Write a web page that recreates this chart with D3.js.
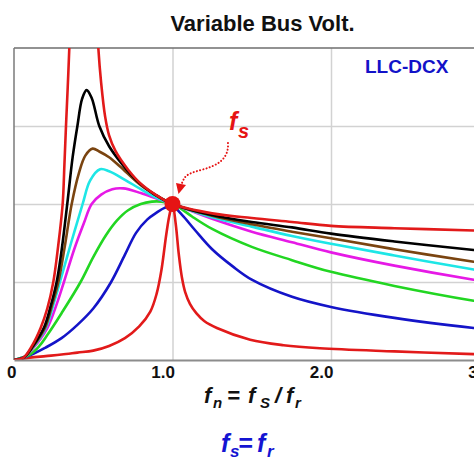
<!DOCTYPE html>
<html>
<head>
<meta charset="utf-8">
<script src="https://cdn.jsdelivr.net/npm/d3@7"></script>
<style>
  html, body { margin: 0; padding: 0; background: #fff; }
  svg { display: block; }
</style>
</head>
<body>
<svg id="chart" width="474" height="474"></svg>
<script>
// ---------- data ----------
const xTicks = [0, 1, 2, 3];
const xTickLabels = ["0", "1.0", "2.0", "3.0"];
const xGrid = [1, 2];
const yGrid = [1, 2, 3];
const resonancePoint = [1.0, 2.0];

// gain curves: [fn, gain]
const curveRedTop = [[0,0],[0.06,0.03],[0.116,0.19],[0.168,0.41],[0.21,0.66],[0.248,1.0],[0.278,1.45],[0.307,2.0],[0.318,2.5],[0.328,3.0],[0.339,3.5],[0.349,4.0],[0.37,5.2],[0.40,7.5],[0.44,9.5],[0.48,7.5],[0.51,5.0],[0.532,4.0],[0.55,3.55],[0.575,3.12],[0.60,2.88],[0.64,2.68],[0.72,2.44],[0.8,2.26],[0.9,2.11],[1.0,2.0],[1.25,1.88],[1.5,1.82],[1.754,1.77],[2.0,1.72],[2.4,1.69],[2.9,1.66],[3.0,1.65]];
const curveBlack = [[0,0],[0.06,0.03],[0.12,0.18],[0.19,0.42],[0.23,0.68],[0.269,1.0],[0.30,1.4],[0.336,2.0],[0.37,2.6],[0.40,3.0],[0.43,3.35],[0.458,3.46],[0.49,3.36],[0.538,3.0],[0.60,2.74],[0.686,2.5],[0.774,2.3],[0.88,2.13],[1.0,2.0],[1.25,1.86],[1.5,1.77],[1.754,1.70],[2.0,1.62],[2.4,1.52],[2.9,1.41],[3.0,1.39]];
const curveBrown = [[0,0],[0.06,0.03],[0.12,0.17],[0.195,0.41],[0.24,0.7],[0.28,1.0],[0.32,1.45],[0.364,2.0],[0.41,2.4],[0.45,2.62],[0.496,2.71],[0.54,2.67],[0.60,2.6],[0.669,2.48],[0.80,2.24],[0.90,2.11],[1.0,2.0],[1.25,1.85],[1.5,1.74],[1.754,1.645],[2.0,1.56],[2.4,1.42],[2.9,1.26],[3.0,1.23]];
const curveCyan = [[0,0],[0.06,0.03],[0.12,0.16],[0.20,0.41],[0.25,0.72],[0.29,1.0],[0.36,1.5],[0.433,2.0],[0.48,2.3],[0.543,2.445],[0.60,2.42],[0.70,2.31],[0.80,2.19],[0.90,2.08],[1.0,2.0],[1.25,1.83],[1.5,1.71],[1.754,1.59],[2.0,1.49],[2.4,1.34],[2.9,1.16],[3.0,1.13]];
const curveMagenta = [[0,0],[0.06,0.03],[0.12,0.15],[0.21,0.41],[0.27,0.72],[0.315,1.0],[0.38,1.42],[0.44,1.75],[0.49,2.0],[0.55,2.12],[0.62,2.19],[0.69,2.2],[0.80,2.14],[0.90,2.07],[1.0,2.0],[1.25,1.81],[1.5,1.645],[1.754,1.51],[2.0,1.38],[2.4,1.21],[2.9,1.03],[3.0,1.0]];
const curveGreen = [[0,0],[0.1,0.07],[0.16,0.18],[0.21,0.32],[0.3,0.6],[0.42,1.0],[0.5,1.32],[0.58,1.6],[0.65,1.79],[0.72,1.92],[0.8,2.0],[0.87,2.03],[0.93,2.03],[1.0,2.0],[1.06,1.93],[1.123,1.84],[1.25,1.68],[1.5,1.45],[1.754,1.28],[2.0,1.13],[2.4,0.95],[2.9,0.76],[3.0,0.73]];
const curveBlue = [[0,0],[0.1,0.06],[0.2,0.16],[0.3,0.28],[0.4,0.45],[0.5,0.66],[0.61,0.99],[0.70,1.35],[0.77,1.63],[0.84,1.8],[0.9,1.89],[0.95,1.95],[1.0,1.97],[1.06,1.86],[1.14,1.67],[1.25,1.42],[1.38,1.2],[1.5,1.03],[1.754,0.81],[2.0,0.68],[2.4,0.54],[2.9,0.41],[3.0,0.39]];
const curveRedBottom = [[0,0],[0.1,0.03],[0.2,0.05],[0.3,0.07],[0.4,0.095],[0.5,0.12],[0.6,0.18],[0.7,0.28],[0.79,0.43],[0.86,0.62],[0.9,0.85],[0.93,1.15],[0.96,1.6],[0.98,1.85],[1.0,2.0],[1.02,1.75],[1.04,1.35],[1.06,1.05],[1.08,0.87],[1.11,0.72],[1.15,0.6],[1.2,0.5],[1.28,0.41],[1.49,0.26],[1.7,0.19],[1.93,0.15],[2.4,0.11],[2.9,0.075],[3.0,0.07]];

const curveList = [curveRedBottom, curveBlue, curveGreen, curveMagenta, curveCyan, curveBrown, curveBlack, curveRedTop];
const curveColors = ["#e21a1a", "#1414c8", "#22d622", "#e619e6", "#1ee6e6", "#7a4410", "#000000", "#e21a1a"];

// ---------- layout ----------
const svg = d3.select("#chart");
const mLeft = 14, mTop = 48, mBottom = 360, mRight = 489.5;
const x = d3.scaleLinear().domain([0, 3]).range([mLeft, mRight]);
const y = d3.scaleLinear().domain([0, 4]).range([mBottom, mTop]);

svg.append("defs").append("clipPath").attr("id", "plotClip")
  .append("rect").attr("x", mLeft).attr("y", mTop)
  .attr("width", mRight - mLeft + 5).attr("height", mBottom - mTop);

// gridlines
const gx = svg.append("g").attr("transform", `translate(0,${mBottom})`)
  .call(d3.axisBottom(x).tickValues(xGrid).tickSize(-(mBottom - mTop)).tickFormat(""));
gx.select(".domain").remove();
gx.selectAll("line").attr("stroke", "#d2d2d2").attr("stroke-width", 1.5);

const gy = svg.append("g").attr("transform", `translate(${mLeft},0)`)
  .call(d3.axisLeft(y).tickValues(yGrid).tickSize(-(mRight - mLeft)).tickFormat(""));
gy.select(".domain").remove();
gy.selectAll("line").attr("stroke", "#d2d2d2").attr("stroke-width", 1.5);

// frame
svg.append("line").attr("x1", mLeft).attr("x2", 474).attr("y1", mTop).attr("y2", mTop)
  .attr("stroke", "#6e6e6e").attr("stroke-width", 1.5);
svg.append("line").attr("x1", mLeft).attr("x2", mLeft).attr("y1", mTop).attr("y2", mBottom)
  .attr("stroke", "#7a7a7a").attr("stroke-width", 1.5);

// curves
const line = d3.line().x(d => x(d[0])).y(d => y(d[1])).curve(d3.curveCatmullRom.alpha(0.5));
const gc = svg.append("g").attr("clip-path", "url(#plotClip)");
curveList.forEach((c, i) => {
  gc.append("path").datum(c).attr("d", line)
    .attr("fill", "none").attr("stroke", curveColors[i])
    .attr("stroke-width", 2.6).attr("stroke-linejoin", "round").attr("stroke-linecap", "round");
});

// bottom axis
const ax = svg.append("g").attr("transform", `translate(0,${mBottom})`)
  .call(d3.axisBottom(x).tickValues(xTicks).tickSize(0).tickFormat((d, i) => xTickLabels[i]));
ax.select(".domain").attr("stroke", "#8c8c8c").attr("stroke-width", 2);
ax.selectAll("text")
  .attr("text-anchor", "end").attr("dx", 2).attr("y", 18).attr("dy", 0)
  .attr("font-family", "Liberation Sans, Arial, sans-serif")
  .attr("font-weight", "bold").attr("font-size", 17).attr("fill", "#111");

// resonance dot
svg.append("circle").attr("cx", x(resonancePoint[0])).attr("cy", y(resonancePoint[1]))
  .attr("r", 8).attr("fill", "#e61414");

// title
svg.append("text").attr("x", 262.5).attr("y", 31).attr("text-anchor", "middle")
  .attr("font-family", "Liberation Sans, Arial, sans-serif").attr("font-weight", "bold")
  .attr("font-size", 22).attr("fill", "#111").text("Variable Bus Volt.");

// LLC-DCX
svg.append("text").attr("x", 365).attr("y", 73)
  .attr("font-family", "Liberation Sans, Arial, sans-serif").attr("font-weight", "bold")
  .attr("font-size", 19).attr("fill", "#1212c8").text("LLC-DCX");

// fs annotation
const fsT = svg.append("text").attr("font-family", "Liberation Sans, Arial, sans-serif")
  .attr("font-weight", "bold").attr("font-style", "italic").attr("fill", "#e61414");
fsT.append("tspan").attr("x", 229).attr("y", 130).attr("font-size", 25).text("f");
fsT.append("tspan").attr("x", 238).attr("y", 138).attr("font-size", 20).text("s");

svg.append("path")
  .attr("d", "M228,143 C229,160 216,166 201,170 S185,176 182,183")
  .attr("fill", "none").attr("stroke", "#e61414").attr("stroke-width", 2)
  .attr("stroke-dasharray", "0.1,3.2").attr("stroke-linecap", "round");
svg.append("path").attr("d", "M176,183 L186,185 L178.5,194 Z").attr("fill", "#e61414");

// x axis title
const xt = svg.append("text").attr("font-family", "Liberation Sans, Arial, sans-serif")
  .attr("font-weight", "bold").attr("font-style", "italic").attr("fill", "#111");
xt.append("tspan").attr("x", 204).attr("y", 403).attr("font-size", 22).text("f");
xt.append("tspan").attr("x", 213).attr("y", 408).attr("font-size", 15).text("n");
xt.append("tspan").attr("x", 227).attr("y", 403).attr("font-size", 22).text("=");
xt.append("tspan").attr("x", 248).attr("y", 403).attr("font-size", 22).text("f");
xt.append("tspan").attr("x", 260).attr("y", 408).attr("font-size", 15).text("S");
xt.append("tspan").attr("x", 275).attr("y", 403).attr("font-size", 22).text("/");
xt.append("tspan").attr("x", 286).attr("y", 403).attr("font-size", 22).text("f");
xt.append("tspan").attr("x", 295).attr("y", 408).attr("font-size", 15).text("r");

// fs = fr
const ft = svg.append("text").attr("font-family", "Liberation Sans, Arial, sans-serif")
  .attr("font-weight", "bold").attr("font-style", "italic").attr("fill", "#1414d2");
ft.append("tspan").attr("x", 221).attr("y", 452).attr("font-size", 25).text("f");
ft.append("tspan").attr("x", 230).attr("y", 457).attr("font-size", 17).text("s");
ft.append("tspan").attr("x", 238).attr("y", 452).attr("font-size", 25).text("=");
ft.append("tspan").attr("x", 257).attr("y", 452).attr("font-size", 25).text("f");
ft.append("tspan").attr("x", 267).attr("y", 457).attr("font-size", 17).text("r");
</script>
</body>
</html>
